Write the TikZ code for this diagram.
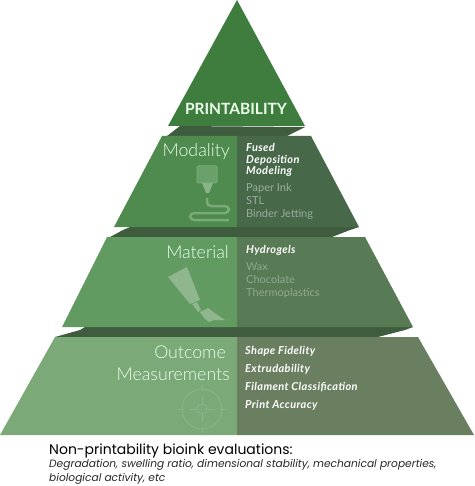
\documentclass[tikz,border=0pt]{standalone}
\usepackage{fontspec}
\setmainfont{Lato}
\newfontfamily\captionfont{Poppins}
\newfontfamily\headingfont{Lato Light}
\newfontfamily\strongfont[LetterSpace=3.5]{Lato}
\usetikzlibrary{positioning}
\definecolor{TopGreen}{HTML}{3F7D3F}
\definecolor{ShadeDark}{HTML}{3F5C3F}
\definecolor{ModLeft}{HTML}{4F8A4E}
\definecolor{ModRight}{HTML}{47694A}
\definecolor{MatLeft}{HTML}{629B61}
\definecolor{MatRight}{HTML}{587A54}
\definecolor{OutLeft}{HTML}{7BA978}
\definecolor{OutRight}{HTML}{697F60}
\tikzset{
  heading/.style={anchor=east,text=white!92!green,font=\headingfont\fontsize{17.8}{20}\selectfont,inner sep=0pt},
  strongitem/.style={anchor=west,text=white,font=\strongfont\fontsize{11}{12}\selectfont\bfseries\itshape,inner sep=0pt,text height=8pt,text depth=2.5pt},
  fadeditem/.style={anchor=west,font=\fontsize{11}{12}\selectfont,inner sep=0pt,text height=8pt,text depth=2.5pt},
  icon/.style={line width=1pt,line join=round}
}

\begin{document}
\begin{tikzpicture}[x=1pt,y=-1pt]
\useasboundingbox (0,0) rectangle (474,486);

% shadows between the tiers
\fill[ShadeDark] (180,126) -- (305,127) -- (287,136) -- (167,136) -- cycle;
\fill[ShadeDark] (130,227) -- (359,227) -- (350,230) -- (332,237) -- (110,237) -- (123,230) -- cycle;
\fill[ShadeDark] (85,327) -- (413,327) -- (405,330) -- (378,337) -- (55,337) -- (80,330) -- cycle;

% top of the pyramid
\fill[TopGreen] (237,0) -- (305,126) -- (168,126) -- cycle;

% tiers
\fill[ModLeft] (162,136) -- (237,136) -- (237,227) -- (114,227) -- cycle;
\fill[ModRight] (237,136) -- (311,136) -- (359,227) -- (237,227) -- cycle;
\fill[MatLeft] (107,237) -- (237,237) -- (237,327) -- (62,327) -- cycle;
\fill[MatRight] (237,237) -- (365,237) -- (413,327) -- (237,327) -- cycle;
\fill[OutLeft] (55,337) -- (237,337) -- (237,435) -- (0,435) -- cycle;
\fill[OutRight] (237,337) -- (418,337) -- (474,435) -- (237,435) -- cycle;

% nozzle
\draw[icon,draw=MatLeft!85!white,fill=MatLeft!95!white,rounded corners=1pt] (197,166) rectangle (217,183);
\fill[MatLeft!75!white] (202,183) -- (213,183) -- (209,193) -- (206,193) -- cycle;
\draw[icon,draw=MatLeft!85!white,line width=2.5pt,rounded corners=4pt] (207,198) -- (207,206) -- (229,206) -- (229,213) -- (190,213) -- (190,220) -- (229,220);

% tube
\fill[OutLeft!85!white] (168,277) -- (187,267) -- (200,300) -- (190,304) -- cycle;
\fill[OutLeft!85!white] (192,304) -- (197,302) -- (201,310) -- (198,312) -- cycle;
\fill[OutLeft!85!white] (200,312) -- (208,308) -- (216,314) -- (225,320) -- (214,320) -- (209,322) -- (204,318) -- cycle;

% target
\draw[icon,draw=OutLeft!88!white] (202,409) circle[radius=20];
\draw[icon,draw=OutLeft!88!white] (202,409) circle[radius=5];
\foreach \a in {0,90,180,270}{
  \draw[icon,draw=OutLeft!88!white] (\a:5) ++(202,409) -- ++(\a:8);
  \draw[icon,draw=OutLeft!88!white] (\a:18) ++(202,409) -- ++(\a:6);
}

\node[text=white!92!green,font=\fontsize{15.5}{18}\selectfont\bfseries,inner sep=0pt] (printability) at (236,109) {PRINTABILITY};

\node[heading] (modality) at (230,152) {Modality};
\node[strongitem] (fused) at (246,149) {Fused};
\node[strongitem,below=0.5pt of fused.south west,anchor=north west] (deposition) {Deposition};
\node[strongitem,below=0.5pt of deposition.south west,anchor=north west] (modeling) {Modeling};
\node[fadeditem,text=ModRight!55!white,below=6pt of modeling.south west,anchor=north west] (paper) {Paper Ink};
\node[fadeditem,text=ModRight!55!white,below=2pt of paper.south west,anchor=north west] (stl) {STL};
\node[fadeditem,text=ModRight!55!white,below=2pt of stl.south west,anchor=north west] (binder) {Binder Jetting};

\node[heading] (material) at (229,252) {Material};
\node[strongitem] (hydrogels) at (246,251) {Hydrogels};
\node[fadeditem,text=MatRight!65!white,below=6pt of hydrogels.south west,anchor=north west] (wax) {Wax};
\node[fadeditem,text=MatRight!65!white,below=2pt of wax.south west,anchor=north west] (chocolate) {Chocolate};
\node[fadeditem,text=MatRight!65!white,below=2pt of chocolate.south west,anchor=north west] (thermo) {Thermoplastics};

\node[heading] (outcome) at (226,352) {Outcome};
\node[heading] (measure) at (230,374) {Measurements};
\node[strongitem] (shape) at (245,352) {Shape Fidelity};
\node[strongitem,below=7pt of shape.south west,anchor=north west] (extrude) {Extrudability};
\node[strongitem,below=7pt of extrude.south west,anchor=north west] (filament) {Filament Classification};
\node[strongitem,below=7pt of filament.south west,anchor=north west] (accuracy) {Print Accuracy};

\node[anchor=west,inner sep=0pt,font=\captionfont\fontsize{14}{15}\selectfont] (nonprint) at (49,451) {Non-printability bioink evaluations:};
\node[anchor=north west,inner sep=0pt,align=left,font=\captionfont\itshape\fontsize{10.65}{14}\selectfont,text=black!85] (evals) at (49,459) {Degradation, swelling ratio, dimensional stability, mechanical properties,\\biological activity, etc};
\end{tikzpicture}
\end{document}
